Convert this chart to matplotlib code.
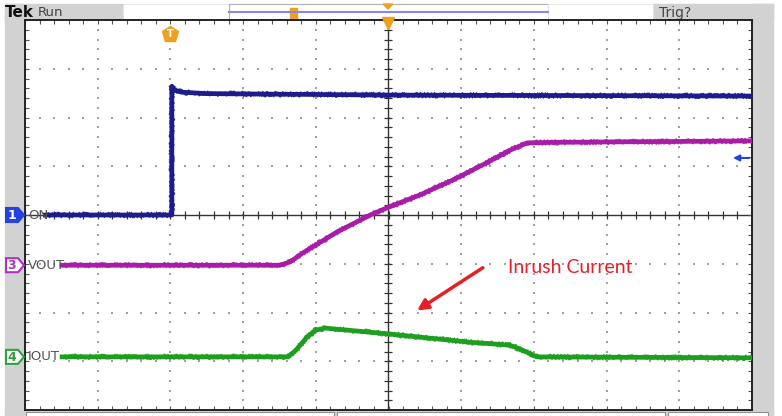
import numpy as np
import matplotlib
matplotlib.use("Agg")
import matplotlib.pyplot as plt
from matplotlib.patches import Rectangle, Polygon

# ---- trace data (scope divisions: x -5..5, y -4..4) ----
on_t = [-4.72, -2.98, -2.98, -2.94, -2.85, -2.5, 0.0, 2.5, 5.0]
on_v = [0.0, 0.0, 2.64, 2.56, 2.52, 2.49, 2.46, 2.45, 2.44]

vout_t = [-4.49, -1.49, -1.35, -1.18, -0.71, -0.25, 0.0, 0.43, 0.89, 1.35, 1.67, 1.91, 2.25, 5.0]
vout_v = [-1.03, -1.03, -0.96, -0.78, -0.35, 0.0, 0.16, 0.41, 0.72, 1.07, 1.33, 1.48, 1.49, 1.52]

iout_t = [-4.49, -1.38, -1.27, -1.13, -1.0, -0.87, 0.0, 1.12, 1.67, 1.84, 2.04, 5.0]
iout_v = [-2.91, -2.91, -2.77, -2.52, -2.36, -2.32, -2.44, -2.61, -2.67, -2.77, -2.91, -2.93]

ch_names = ["ON", "VOUT", "IOUT"]
ch_nums = ["1", "3", "4"]
ch_levels = [0.0, -1.03, -2.91]
ch_colors = ["#1c1c8c", "#a81ca8", "#1e9e1e"]
marker_colors = ["#2244dd", "#b030c0", "#30a040"]

W, H = 782, 416
fig = plt.figure(figsize=(W / 100, H / 100), dpi=100)
fig.patch.set_facecolor("white")

# background decoration axes in pixel coordinates
bg = fig.add_axes([0, 0, 1, 1], zorder=0)
bg.set_xlim(0, W)
bg.set_ylim(H, 0)
bg.axis("off")
gray = "#d2d2d2"
bg.add_patch(Rectangle((5, 4), 118, 16, color=gray))
bg.add_patch(Rectangle((5, 4), 18, 410, color=gray))
bg.add_patch(Rectangle((653, 4), 120, 16, color=gray))
bg.add_patch(Rectangle((752, 4), 21, 410, color=gray))
bg.add_patch(Rectangle((5, 410), 768, 6, color=gray))
bg.add_patch(Rectangle((123, 4), 106, 16, facecolor="white", edgecolor="#e4e4e4", lw=0.6))
bg.add_patch(Rectangle((229, 4), 319, 16, facecolor="white", edgecolor="#b0b0b0", lw=0.8))
bg.add_patch(Rectangle((548, 4), 105, 16, facecolor="white", edgecolor="#e4e4e4", lw=0.6))
for x0, w in [(26, 308), (337, 328), (668, 100)]:
    bg.add_patch(Rectangle((x0, 412), w, 8, facecolor="white", edgecolor="#909090", lw=0.8))
bg.plot([229, 548], [11.5, 11.5], color="#8888e6", lw=1.5)
bg.add_patch(Rectangle((289.5, 8), 7, 12, color="#f0a020"))
bg.add_patch(Polygon([(383, 4), (393, 4), (388, 9)], color="#f0a020"))
bg.text(5, 12.5, "Tek", fontsize=11, fontweight="bold", color="#111111",
        va="center", ha="left", family="DejaVu Sans")
bg.text(38, 12.5, "Run", fontsize=9.5, color="#444444", va="center", ha="left",
        family=["Liberation Sans Narrow", "DejaVu Sans"])
bg.text(659, 12.5, "Trig?", fontsize=10, color="#444444", va="center", ha="left",
        family=["Liberation Sans Narrow", "DejaVu Sans"])

# main graticule axes
L, T, R, B = 25, 20, 752, 410
ax = fig.add_axes([L / W, (H - B) / H, (R - L) / W, (B - T) / H], zorder=1)
ax.set_xlim(-5, 5)
ax.set_ylim(-4, 4)
ax.set_facecolor("white")
for s in ax.spines.values():
    s.set_color("#222222")
    s.set_linewidth(1.4)
ax.set_xticks(np.arange(-5, 5.01, 0.2))
ax.set_yticks(np.arange(-4, 4.01, 0.2))
ax.tick_params(direction="in", length=3, width=0.8, color="#555555",
               top=True, right=True, labelbottom=False, labelleft=False)

# dotted grid
ys = np.arange(-4, 4.01, 0.2)
xs = np.arange(-5, 5.01, 0.2)
for gx in range(-4, 5):
    if gx != 0:
        ax.plot([gx] * len(ys), ys, ls="none", marker="s", ms=1.5, mew=0,
                color="#a0a0a0", zorder=1)
for gy in range(-3, 4):
    if gy != 0:
        ax.plot(xs, [gy] * len(xs), ls="none", marker="s", ms=1.5, mew=0,
                color="#a0a0a0", zorder=1)

# centre cross with tick marks
ax.axhline(0, color="#333333", lw=1.0, zorder=1)
ax.axvline(0, color="#333333", lw=1.0, zorder=1)
ax.plot(xs, np.zeros_like(xs), ls="none", marker="|", ms=6, mew=0.9, color="#333333", zorder=1)
ax.plot(np.zeros_like(ys), ys, ls="none", marker="_", ms=6, mew=0.9, color="#333333", zorder=1)

# traces
for t, v, c in [(on_t, on_v, ch_colors[0]), (vout_t, vout_v, ch_colors[1]), (iout_t, iout_v, ch_colors[2])]:
    ax.plot(t, v, color=c, lw=3.4, solid_joinstyle="round", zorder=3)
    fuzz, = ax.plot(t, v, color=c, lw=1.0, alpha=0.9, zorder=3)
    fuzz.set_sketch_params(scale=2.6, length=1.0, randomness=2.0)

# trigger markers
ax.plot([-3.0], [3.72], marker="p", ms=12, color="#f0a020", clip_on=False, zorder=4)
ax.text(-3.0, 3.71, "T", color="white", fontsize=7, fontweight="bold",
        ha="center", va="center", zorder=5)
ax.plot([0], [3.93], marker="v", ms=9, color="#f0a020", clip_on=False, zorder=4)
ax.annotate("", xy=(4.7, 1.17), xytext=(5.0, 1.17),
            arrowprops=dict(arrowstyle="-|>", color="#2244dd", lw=1.5, mutation_scale=9),
            zorder=4)

# channel labels
for name, lvl in zip(ch_names, ch_levels):
    ax.text(-4.96, lvl, name, fontsize=9.5, color="#555555", ha="left", va="center",
            family=["Liberation Sans Narrow", "DejaVu Sans"], zorder=4)

# channel markers in pixel coords
top = fig.add_axes([0, 0, 1, 1], zorder=2)
top.set_xlim(0, W)
top.set_ylim(H, 0)
top.axis("off")
for i, (num, lvl) in enumerate(zip(ch_nums, ch_levels)):
    py = 215 - lvl * 48.75
    filled = i == 0
    mc = marker_colors[i]
    top.add_patch(Polygon([(6, py - 7), (18, py - 7), (24, py), (18, py + 7), (6, py + 7)],
                          facecolor=mc if filled else "white", edgecolor=mc, lw=1.5))
    top.text(12, py + 0.5, num, fontsize=9, fontweight="bold",
             color="white" if filled else mc, ha="center", va="center")

# annotation
ax.annotate("", xy=(0.36, -1.99), xytext=(1.33, -1.05),
            arrowprops=dict(arrowstyle="-|>", color="#e32026", lw=2.5, mutation_scale=16),
            zorder=6)
ax.text(1.64, -1.07, "Inrush Current", color="#e8202a", fontsize=14,
        family=["Lato", "DejaVu Sans"], ha="left", va="center", zorder=6)

fig.savefig("out.png", dpi=100)
